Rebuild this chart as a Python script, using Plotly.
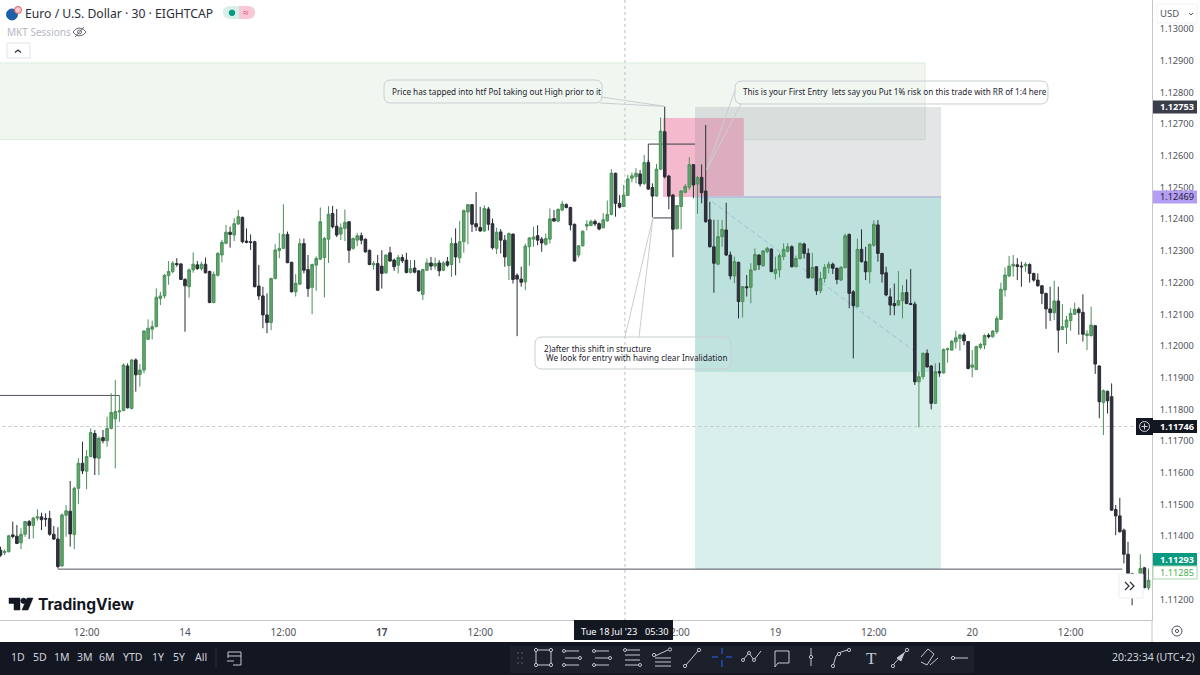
import plotly.graph_objects as go

# ---- data: EURUSD 30 min candles, price as 1 + value/100000 ----
opens_pts = [11356,11348,11351,11404,11400,11379,11406,11446,11434,11457,
11461,11456,11456,11406,11391,11306,11466,11479,11405,11551,
11630,11605,11651,11724,11646,11711,11701,11740,11770,11792,
11796,11937,11803,11956,11910,11924,12021,12053,12061,12150,
12158,12222,12235,12260,12259,12210,12187,12240,12256,12244,
12258,12235,12137,12223,12287,12324,12359,12350,12385,12406,
12331,12329,12329,12189,12158,12098,12074,12213,12301,12308,
12352,12264,12171,12195,12323,12241,12185,12255,12274,12279,
12337,12418,12378,12353,12371,12392,12308,12334,12348,12337,
12302,12256,12260,12252,12231,12294,12271,12255,12279,12271,
12232,12246,12237,12163,12239,12262,12252,12262,12239,12266,
12257,12323,12278,12329,12423,12446,12386,12374,12363,12432,
12386,12308,12360,12334,12254,12353,12223,12211,12202,12313,
12337,12348,12337,12321,12337,12402,12394,12429,12446,12437,
12384,12287,12316,12378,12380,12393,12386,12373,12395,12415,
12545,12450,12440,12475,12529,12534,12543,12513,12579,12500,
12473,12558,12676,12536,12476,12370,12440,12485,12501,12572,
12511,12532,12489,12398,12313,12258,12345,12366,12287,12221,
12264,12140,12187,12185,12240,12287,12253,12298,12306,12229,
12240,12282,12299,12313,12250,12276,12322,12292,12215,12250,
12174,12213,12247,12258,12245,12208,12247,12352,12171,12124,
12305,12266,12234,12318,12382,12292,12231,12155,12134,12129,
12143,12169,12134,12132,11887,11903,11977,11937,11819,11919,
11915,11988,11987,12013,12024,12035,12014,11933,11926,11995,
12003,12034,12029,12045,12084,12177,12221,12252,12256,12252,
12253,12257,12229,12208,12190,12166,12117,12105,12142,12052,
12059,12080,12100,12116,12106,12033,12033,12064,11937,11822,
11857,11840,11484,11464,11419,11343,11282,11238,11261,11300,11237]

highs_pts = [11367,11358,11404,11446,11435,11425,11448,11451,11461,11485,
11474,11472,11480,11432,11428,11472,11498,11574,11556,11646,
11698,11672,11740,11735,11714,11735,11777,11851,11893,11845,
11945,11945,11958,11961,11943,12050,12084,12080,12182,12171,
12227,12268,12268,12277,12261,12214,12245,12295,12268,12266,
12279,12238,12235,12296,12335,12382,12377,12403,12429,12408,
12371,12352,12332,12256,12187,12166,12215,12321,12356,12447,
12361,12266,12227,12339,12339,12287,12260,12283,12437,12344,
12441,12442,12432,12387,12431,12394,12342,12357,12358,12339,
12304,12268,12287,12302,12289,12313,12276,12287,12289,12294,
12271,12271,12239,12244,12276,12281,12279,12271,12268,12281,
12342,12371,12395,12431,12448,12448,12486,12439,12444,12439,
12402,12373,12369,12350,12358,12355,12229,12250,12323,12344,
12376,12381,12344,12355,12434,12429,12434,12458,12450,12439,
12386,12318,12365,12397,12399,12399,12390,12419,12459,12558,
12547,12476,12508,12540,12547,12561,12555,12603,12587,12513,
12574,12721,12755,12540,12480,12445,12492,12511,12595,12574,
12536,12573,12697,12455,12398,12398,12398,12452,12298,12282,
12266,12189,12224,12261,12308,12289,12303,12313,12308,12282,
12292,12324,12324,12318,12285,12326,12326,12308,12294,12252,
12234,12258,12266,12263,12248,12252,12355,12355,12176,12339,
12368,12313,12322,12397,12397,12294,12250,12182,12197,12236,
12192,12210,12243,12140,11919,11979,11989,11940,11945,11947,
11992,11995,12019,12048,12038,12042,12016,11987,12001,12010,
12037,12040,12050,12095,12200,12248,12284,12287,12277,12266,
12264,12261,12231,12229,12192,12168,12187,12206,12187,12132,
12095,12119,12137,12122,12163,12050,12124,12066,11939,11863,
11859,11882,11498,11521,11424,11382,11285,11264,11343,11303,11298]

lows_pts = [11335,11340,11349,11393,11375,11359,11398,11391,11393,11449,
11419,11430,11401,11388,11298,11304,11398,11367,11359,11501,
11596,11548,11649,11593,11593,11693,11682,11737,11614,11761,
11795,11803,11800,11856,11872,11914,12019,12021,12059,12129,
12150,12193,12229,12250,12208,12045,12153,12231,12240,12238,
12229,12135,12135,12219,12264,12321,12310,12331,12382,12324,
12324,12303,12185,12145,12056,12040,12050,12210,12277,12306,
12261,12169,12156,12192,12229,12155,12100,12174,12271,12153,
12262,12371,12344,12334,12331,12262,12304,12315,12321,12294,
12255,12241,12174,12181,12227,12266,12237,12229,12262,12229,
12229,12229,12171,12145,12237,12239,12241,12220,12237,12250,
12218,12223,12262,12294,12321,12360,12363,12360,12360,12365,
12304,12290,12292,12250,12208,12197,12031,12187,12176,12253,
12313,12318,12297,12317,12323,12392,12390,12425,12434,12365,
12266,12279,12314,12365,12378,12378,12365,12371,12392,12412,
12408,12434,12438,12473,12516,12513,12503,12508,12492,12469,
12471,12555,12529,12431,12280,12368,12368,12482,12492,12466,
12417,12450,12389,12311,12168,12256,12313,12284,12210,12198,
12087,12090,12156,12135,12238,12240,12250,12292,12232,12210,
12216,12271,12295,12248,12248,12273,12276,12213,12213,12161,
12166,12200,12229,12227,12195,12205,12245,12119,11961,12122,
12263,12208,12197,12313,12266,12200,12157,12097,12097,12127,
12087,12132,12129,11877,11743,11895,11932,11800,11817,11903,
11913,11947,11985,11992,11985,12003,11926,11901,11924,11989,
11990,12024,12027,12038,12082,12156,12217,12219,12208,12187,
12234,12200,12203,12187,12132,12054,12079,12082,11979,12050,
12006,12048,12098,12035,12014,11987,12029,11912,11772,11719,
11787,11480,11403,11411,11314,11272,11182,11214,11238,11235,11230]

closes_pts = [11340,11352,11401,11399,11377,11406,11446,11434,11457,11461,
11452,11454,11406,11391,11304,11467,11480,11407,11551,11630,
11606,11651,11727,11647,11709,11701,11740,11790,11793,11795,
11940,11805,11956,11909,11924,12047,12056,12061,12154,12158,
12223,12235,12261,12257,12210,12190,12240,12258,12244,12258,
12231,12137,12226,12292,12327,12359,12352,12386,12408,12329,
12327,12327,12187,12158,12098,12074,12213,12303,12308,12352,
12263,12171,12198,12323,12239,12181,12257,12276,12392,12339,
12416,12376,12350,12373,12390,12302,12339,12348,12334,12297,
12257,12260,12176,12229,12287,12268,12250,12279,12269,12232,
12244,12233,12174,12241,12262,12252,12260,12237,12262,12255,
12323,12281,12329,12427,12446,12384,12376,12363,12434,12384,
12310,12359,12334,12281,12355,12210,12211,12201,12315,12341,
12344,12334,12325,12339,12401,12394,12431,12448,12437,12382,
12268,12316,12362,12384,12393,12385,12369,12398,12415,12545,
12450,12438,12476,12527,12537,12545,12511,12579,12495,12473,
12558,12678,12534,12473,12368,12443,12489,12503,12572,12508,
12531,12484,12392,12313,12261,12345,12368,12287,12221,12266,
12140,12187,12184,12240,12289,12256,12300,12308,12235,12242,
12285,12305,12313,12250,12276,12324,12292,12215,12248,12174,
12213,12248,12258,12245,12210,12248,12348,12166,12127,12305,
12266,12234,12321,12384,12292,12227,12161,12129,12127,12143,
12168,12134,12131,11887,11903,11977,11934,11819,11919,11915,
11989,11991,12015,12026,12035,12016,11929,11940,11998,12005,
12033,12029,12047,12087,12179,12224,12252,12258,12251,12250,
12258,12229,12208,12190,12166,12117,12105,12142,12050,12061,
12082,12103,12116,12105,12037,12038,12066,11943,11824,11859,
11827,11482,11464,11414,11343,11282,11274,11261,11298,11238,11261]

assert len(opens_pts) == len(highs_pts) == len(lows_pts) == len(closes_pts) == 281

# "18" (141) and 1.11300 lie under the date and price tags in the reference
time_ticks = [21, 45, 69, 93, 117, 165, 189, 213, 237, 261]
time_labels = ["12:00", "14", "12:00", "<b>17</b>", "12:00", "12:00", "19", "12:00", "20", "12:00"]
price_ticks = [1.112, 1.114, 1.115, 1.116, 1.117, 1.118, 1.119, 1.120, 1.121, 1.122,
               1.123, 1.124, 1.125, 1.126, 1.127, 1.128, 1.129, 1.130]

def price(p):
    return 1 + p / 100000

bar_index = list(range(len(opens_pts)))
DARK = "#131722"

def px(x): return x / 1200
def py(y): return 1 - y / 675

shapes = []
ann = []

def zone(i0, i1, p0, p1, fill, line=None, width=0):
    shapes.append(dict(type="rect", xref="x", yref="y", x0=i0, x1=i1, y0=price(p0), y1=price(p1),
                       fillcolor=fill, line=dict(color=line or "rgba(0,0,0,0)", width=width), layer="below"))

def dline(i0, p0, i1, p1, color="#50535e", width=1, dash="solid"):
    shapes.append(dict(type="line", xref="x", yref="y", x0=i0, x1=i1, y0=price(p0), y1=price(p1),
                       line=dict(color=color, width=width, dash=dash), layer="below"))

def pth(points, color="#c3c8d4", width=1, fill=None, close=False, layer="above"):
    d = "M " + " L ".join(f"{px(x):.5f} {py(y):.5f}" for x, y in points)
    if close:
        d += " Z"
    shapes.append(dict(type="path", xref="paper", yref="paper", path=d, layer=layer,
                       fillcolor=fill or "rgba(0,0,0,0)", line=dict(color=color, width=width)))

def box(x0, y0, x1, y1, fill, line=None, width=0):
    shapes.append(dict(type="rect", xref="paper", yref="paper", x0=px(x0), x1=px(x1), y0=py(y0), y1=py(y1),
                       fillcolor=fill, line=dict(color=line or "rgba(0,0,0,0)", width=width), layer="above"))

def dot(x, y, r, fill="rgba(0,0,0,0)", line="#c3c8d4", width=1):
    shapes.append(dict(type="circle", xref="paper", yref="paper", x0=px(x - r), x1=px(x + r), y0=py(y - r), y1=py(y + r),
                       fillcolor=fill, line=dict(color=line, width=width), layer="above"))

def text(x, y, s, size=11, color="#131722", anchor="left", font="Noto Sans"):
    ann.append(dict(xref="paper", yref="paper", x=px(x), y=py(y), text=s, showarrow=False, xanchor=anchor,
                    yanchor="middle", font=dict(size=size, color=color, family=font), borderpad=0, borderwidth=0))

def callout(x0, y0, x1, y1, tail, r=7, color="#c9cfd2"):
    pts = tail
    d = (f"M {px(x0+r):.5f} {py(y0):.5f} L {px(x1-r):.5f} {py(y0):.5f} "
         f"Q {px(x1):.5f} {py(y0):.5f} {px(x1):.5f} {py(y0+r):.5f} L {px(x1):.5f} {py(y1-r):.5f} "
         f"Q {px(x1):.5f} {py(y1):.5f} {px(x1-r):.5f} {py(y1):.5f} L {px(x0+r):.5f} {py(y1):.5f} "
         f"Q {px(x0):.5f} {py(y1):.5f} {px(x0):.5f} {py(y1-r):.5f} L {px(x0):.5f} {py(y0+r):.5f} "
         f"Q {px(x0):.5f} {py(y0):.5f} {px(x0+r):.5f} {py(y0):.5f} Z")
    shapes.append(dict(type="path", xref="paper", yref="paper", path=d, layer="above",
                       fillcolor="rgba(255,255,255,0.05)", line=dict(color=color, width=1)))
    pth(pts, color=color)

# ---- drawings on the chart (price / bar coordinates) ----
zone(-1, 225.5, 12893, 12651, "#f0f7f1", "#dcecdf", 1)
zone(161.6, 181.3, 12719, 12470, "#f5b9cd")
zone(169.4, 229.4, 12754, 12470, "rgba(120,123,134,0.2)")
zone(169.4, 229.4, 12470, 11918, "#bde2de")
zone(169.4, 229.4, 11918, 11296, "#d9efec")
dline(169.4, 12470, 229.4, 12470, "#b9c3dd", 2)
dline(152.3, 11000, 152.3, 13200, "#bcbfc6", 1, "3px,3px")
dline(-1, 11746, 281, 11746, "#c4c6cc", 1, "3px,3px")
dline(14, 11296, 273.6, 11296, "#50535e", 1)
dline(-1, 11844, 29, 11844, "#50535e", 1)
dline(158, 12637, 169.4, 12637, "#3a3d45", 1)
dline(158, 12637, 158, 12577, "#3a3d45", 1)
dline(159, 12470, 159, 12404, "#3a3d45", 1)
dline(159, 12404, 164, 12404, "#3a3d45", 1)
dline(172, 12470, 223.5, 11978, "#9dbfdc", 1, "5px,3px")

# ---- callouts ----
INK = "#1e222d"
callout(384, 80, 602, 103, [(601, 97), (666, 106.5), (600, 103)])
text(392, 91, "Price has tapped into htf PoI taking out High prior to it", 8.2, INK)
callout(735, 81, 1048, 104, [(735, 90), (706.5, 170), (741, 104)])
text(743, 91, "This is your First Entry  lets say you Put 1% risk on this trade with RR of 1:4 here", 8.2, INK)
callout(535, 337, 731, 369, [(625, 337), (653, 217), (639, 337)])
text(544, 348.5, "2)after this shift in structure", 8.2, INK)
text(546, 357, "We look for entry with having clear Invalidation", 8.2, INK)

# ---- header ----
dot(12, 14.5, 5.5, "#1f5fa8", "#1f5fa8")
dot(18, 10, 3.5, "#f4c9c9", "#e05a5a")
text(25, 13.5, "Euro / U.S. Dollar · 30 · EIGHTCAP", 12.2, "#2a2e39")
shapes.append(dict(type="path", xref="paper", yref="paper", layer="above", fillcolor="#d8eee9", line=dict(width=0),
                   path=f"M {px(239):.5f} {py(6):.5f} L {px(230):.5f} {py(6):.5f} Q {px(223):.5f} {py(6):.5f} {px(223):.5f} {py(12.5):.5f} Q {px(223):.5f} {py(19):.5f} {px(230):.5f} {py(19):.5f} L {px(239):.5f} {py(19):.5f} Z"))
shapes.append(dict(type="path", xref="paper", yref="paper", layer="above", fillcolor="#f8c8d7", line=dict(width=0),
                   path=f"M {px(239):.5f} {py(6):.5f} L {px(248):.5f} {py(6):.5f} Q {px(255):.5f} {py(6):.5f} {px(255):.5f} {py(12.5):.5f} Q {px(255):.5f} {py(19):.5f} {px(248):.5f} {py(19):.5f} L {px(239):.5f} {py(19):.5f} Z"))
dot(232, 12.8, 2.8, "#089981", "#089981")
text(246, 12.5, "≈", 10, "#e0336e", "center")
text(7, 32, "MKT Sessions", 10, "#b4b8c2")
pth([(73, 32), (76, 29), (79, 28), (83, 29), (86, 32), (83, 35), (79, 36), (76, 35), (73, 32)], "#6a6d78")
pth([(75, 37), (84, 27)], "#6a6d78")
dot(79.5, 32, 2, line="#6a6d78")
box(7, 43, 30, 58, "#ffffff", "#e0e3eb", 1)
pth([(15, 52.5), (18, 50), (21, 52.5)], "#2a2e39", 1.2)

# TradingView logo
pth([(9, 598), (20, 598), (20, 610), (14, 610), (14, 603.5), (9, 603.5)], "#131722", 0.5, "#131722", True)
dot(23.5, 600.8, 2.6, "#131722", "#131722")
pth([(27, 598), (33, 598), (28, 610), (22, 610)], "#131722", 0.5, "#131722", True)
text(38, 604, "<b>TradingView</b>", 15.5, "#131722", font="Inter")

# ---- right price scale ----
pth([(1152, 620), (1152, 642)], "#c4c6cc")
box(1157, 4, 1197, 23, "#ffffff", "#f0f1f4", 1)
text(1160, 14, "USD", 9.5, "#50535e")
pth([(1189, 13), (1191, 15), (1193, 13)], "#50535e")

def tag(y, s, fill, color, line=None):
    box(1153, y - 6.5, 1197, y + 6.5, fill, line, 1 if line else 0)
    text(1160, y, s, 9.2, color)

tag(107, "<b>1.12753</b>", "#3a3e4a", "#ffffff")
tag(197, "1.12469", "#b39df5", "#24212e")
tag(426.5, "<b>1.11746</b>", DARK, "#ffffff")
tag(559.5, "<b>1.11293</b>", "#089981", "#ffffff")
tag(572.5, "1.11285", "#ffffff", "#4caf50", "#a8d8ab")
box(1136, 418, 1153, 435, DARK)
dot(1144.5, 426.5, 5, line="#d1d4dc")
pth([(1141.5, 426.5), (1147.5, 426.5)], "#d1d4dc")
pth([(1144.5, 423.5), (1144.5, 429.5)], "#d1d4dc")

# scroll button
box(1119, 574, 1143, 598, "#ffffff", "#eceef2", 1)
pth([(1125, 582), (1129, 586), (1125, 590)], "#2a2e39", 1.2)
pth([(1130, 582), (1134, 586), (1130, 590)], "#2a2e39", 1.2)

# ---- bottom chrome ----
box(574, 620, 673, 640, DARK)
text(581, 631, "Tue 18 Jul '23", 9.2, "#ffffff")
text(645, 631, "05:30", 9.2, "#ffffff")
dot(1177, 631, 5, line="#50535e")
dot(1177, 631, 1.6, line="#50535e")

box(0, 642, 1200, 675, DARK)
for x, s in zip([18, 40, 62, 85, 107, 133, 158, 179, 201],
                ["1D", "5D", "1M", "3M", "6M", "YTD", "1Y", "5Y", "All"]):
    text(x, 657, s, 10.5, "#d1d4dc", "center")
pth([(216, 648), (216, 667)], "#2a2e39")
pth([(228, 652), (241, 652), (241, 665), (233, 665)], "#c3c8d4")
pth([(228, 652), (228, 658)], "#c3c8d4")
pth([(228, 656), (241, 656)], "#c3c8d4")
pth([(227, 661), (234, 661)], "#c3c8d4")
text(1195, 657, "20:23:34 (UTC+2)", 10.5, "#d1d4dc", "right")

box(510, 646, 974, 673, "#1c202b")
for y in (653, 658, 663):
    dot(518, y, 0.5, "#4a4e5a", "#4a4e5a")
    dot(522, y, 0.5, "#4a4e5a", "#4a4e5a")
C = "#c3c8d4"
# rectangle
pth([(536, 650), (551, 650), (551, 665), (536, 665)], C, 1, None, True)
for a, b in ((536, 650), (551, 650), (536, 665), (551, 665)):
    dot(a, b, 1.6, DARK)
# risk icons
for cx in (572, 602):
    pth([(cx - 7, 651), (cx + 7, 651)], C); pth([(cx - 7, 658), (cx + 7, 658)], C); pth([(cx - 7, 665), (cx + 7, 665)], C)
    dot(cx - 8, 651, 1.5, DARK); dot(cx + 8, 658, 1.5, DARK); dot(cx - 8, 665, 1.5, DARK)
# fib
for y in (650, 655, 660, 665):
    pth([(625, y), (640, y)], C)
dot(625, 650, 1.5, DARK); dot(640, 665, 1.5, DARK)
# pitchfork style
for y in (658, 662, 666):
    pth([(655, y), (671, y)], C)
pth([(655, 656), (668, 650)], C)
dot(670, 649.5, 1.6, DARK); dot(654, 655, 1.6, DARK)
# trend line
pth([(686, 665), (698, 651)], C); dot(685, 666, 1.6, DARK); dot(699, 650, 1.6, DARK)
# crosshair (active)
B = "#2962ff"
pth([(722, 648), (722, 654)], B); pth([(722, 660), (722, 667)], B)
pth([(712, 657), (718, 657)], B); pth([(726, 657), (732, 657)], B)
# path
pth([(743, 660), (749, 653), (754, 660), (761, 651)], C)
dot(743, 660, 1.5, DARK); dot(749, 653, 1.5, DARK); dot(754, 660, 1.5, DARK)
# balloon
pth([(775, 651), (789, 651), (789, 663), (778, 663), (775, 667)], C, 1, None, True)
# vertical line
pth([(811, 648), (811, 666)], C); dot(811, 657, 1.6, DARK)
# curve
pth([(833, 666), (836, 656), (841, 652), (848, 650)], C); dot(833, 666, 1.6, DARK); dot(839, 654, 1.6, DARK); dot(849, 650, 1.6, DARK)
# text
text(871, 658, "T", 17, C, "center", "Liberation Serif")
# arrow
pth([(893, 665), (906, 651)], C); dot(893, 666, 1.6, DARK); dot(907, 650, 1.6, DARK)
pth([(897, 658), (904, 653), (901, 661)], C, 1, C, True)
# brush
pth([(921, 657), (928, 649), (934, 654), (927, 665), (921, 662)], C)
pth([(930, 665), (938, 658)], C)
# horizontal ray
pth([(954, 658), (968, 658)], C); dot(953, 658, 1.6, DARK)

# ---- figure ----
fig = go.Figure(go.Candlestick(
    x=bar_index,
    open=[price(v) for v in opens_pts],
    high=[price(v) for v in highs_pts],
    low=[price(v) for v in lows_pts],
    close=[price(v) for v in closes_pts],
    increasing=dict(line=dict(color="#4d8f5b", width=1), fillcolor="#5ca868"),
    decreasing=dict(line=dict(color="#2b2d36", width=1), fillcolor="#2f313b"),
    whiskerwidth=0,
    showlegend=False,
    hoverinfo="skip",
))

fig.update_layout(
    width=1200, height=675,
    margin=dict(l=0, r=0, t=0, b=0),
    paper_bgcolor="#ffffff", plot_bgcolor="#ffffff",
    boxgap=0.1,
    showlegend=False,
    font=dict(family="Noto Sans"),
    shapes=shapes, annotations=ann,
    xaxis=dict(domain=[0, 1152 / 1200], range=[-0.12, 280.85], rangeslider=dict(visible=False),
               tickmode="array", tickvals=time_ticks, ticktext=time_labels, showgrid=False, zeroline=False,
               showline=True, linecolor="#c4c6cc", linewidth=1, ticks="outside", ticklen=3, tickcolor="#ffffff",
               tickfont=dict(size=10, color="#50535e", family="Noto Sans"), tickangle=0),
    yaxis=dict(domain=[55 / 675, 1], range=[1.111355, 1.130916], side="right", anchor="x",
               tickmode="array", tickvals=price_ticks, tickformat=".5f", showgrid=False, zeroline=False,
               showline=True, linecolor="#c4c6cc", linewidth=1, ticks="outside", ticklen=5, tickcolor="#ffffff",
               tickfont=dict(size=9.2, color="#50535e", family="Noto Sans")),
)

fig.write_html("out.html", config=dict(displayModeBar=False),
               post_script="document.body.style.margin='0';document.body.style.overflow='hidden';")
